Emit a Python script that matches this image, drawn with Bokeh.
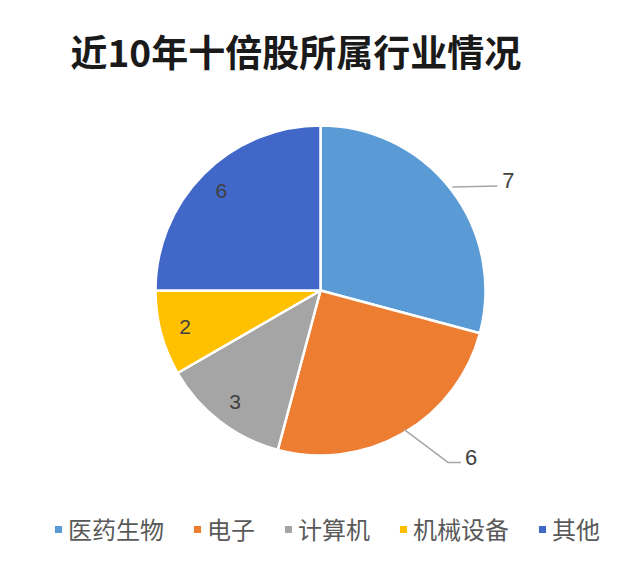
import numpy as np
from bokeh.plotting import figure
from bokeh.models import Range1d, Label, Legend, LegendItem, ColumnDataSource
from bokeh.embed import file_html
from bokeh.resources import INLINE
from bokeh.core.properties import value

# ---- data ----
categories = ["医药生物", "电子", "计算机", "机械设备", "其他"]
counts = [7, 6, 3, 2, 6]
colors = ["#5B9BD5", "#ED7D31", "#A5A5A5", "#FFC000", "#4167C8"]
title_text = "近10年十倍股所属行业情况"

W, H = 640, 561
CX, CY, R = 320, H - 290, 165
CJK = "Noto Sans CJK SC"

total = sum(counts)
cum = np.cumsum([0] + counts)
start = np.pi / 2 - 2 * np.pi * cum[:-1] / total
end = np.pi / 2 - 2 * np.pi * cum[1:] / total
mid = (start + end) / 2

p = figure(width=W, height=H, output_backend="svg", toolbar_location=None,
           x_range=Range1d(0, W), y_range=Range1d(0, H), min_border=0)
p.axis.visible = False
p.grid.visible = False
p.outline_line_color = None
p.background_fill_color = "white"
p.border_fill_color = "white"

src = ColumnDataSource(dict(cat=categories, cnt=counts, color=colors,
                            start=start, end=end))
wr = p.wedge(x=CX, y=CY, radius=R, start_angle="start", end_angle="end",
             direction="clock", fill_color="color", line_color="white",
             line_width=2.5, source=src)

# inside labels (计算机, 机械设备, 其他)
inside = [2, 3, 4]
rf = 0.85 * R
p.text(x=[CX + rf * np.cos(mid[i]) for i in inside],
       y=[CY + rf * np.sin(mid[i]) for i in inside],
       text=[str(counts[i]) for i in inside],
       text_font=value("Liberation Sans"), text_font_size="21px",
       text_color="#404040", text_align="center", text_baseline="middle")

# outside label 0 (医药生物)
ax0, ay0 = CX + R * np.cos(mid[0]), CY + R * np.sin(mid[0])
p.line(x=[ax0 + 1, ax0 + 46], y=[ay0 + 3, ay0 + 4], line_color="#A6A6A6", line_width=1.5)
p.text(x=[ax0 + 57], y=[ay0 + 10], text=[str(counts[0])],
       text_font=value("Liberation Sans"), text_font_size="22px",
       text_color="#404040", text_align="center", text_baseline="middle")

# outside label 1 (电子)
ax1, ay1 = CX + R * np.cos(mid[1]), CY + R * np.sin(mid[1])
p.line(x=[ax1 + 1, ax1 + 45, ax1 + 58], y=[ay1 + 4, ay1 - 29, ay1 - 29],
       line_color="#A6A6A6", line_width=1.5)
p.text(x=[ax1 + 68], y=[ay1 - 24], text=[str(counts[1])],
       text_font=value("Liberation Sans"), text_font_size="22px",
       text_color="#404040", text_align="center", text_baseline="middle")

# title
p.add_layout(Label(x=70, y=H - 50, text=title_text, text_font=CJK,
                   text_font_size="37px", text_font_style="bold",
                   text_color="#1a1a1a", text_baseline="middle"))

legend = Legend(items=[LegendItem(label=categories[i], renderers=[wr], index=i)
                       for i in range(len(categories))],
                orientation="horizontal", location=(52, 15),
                label_text_font=CJK, label_text_font_size="24px",
                label_text_color="#595959", glyph_width=12, glyph_height=12,
                label_standoff=4, spacing=27, padding=0, margin=0,
                border_line_color=None, background_fill_alpha=0)
p.add_layout(legend, "center")

open("out.html", "w").write(file_html(p, INLINE))
